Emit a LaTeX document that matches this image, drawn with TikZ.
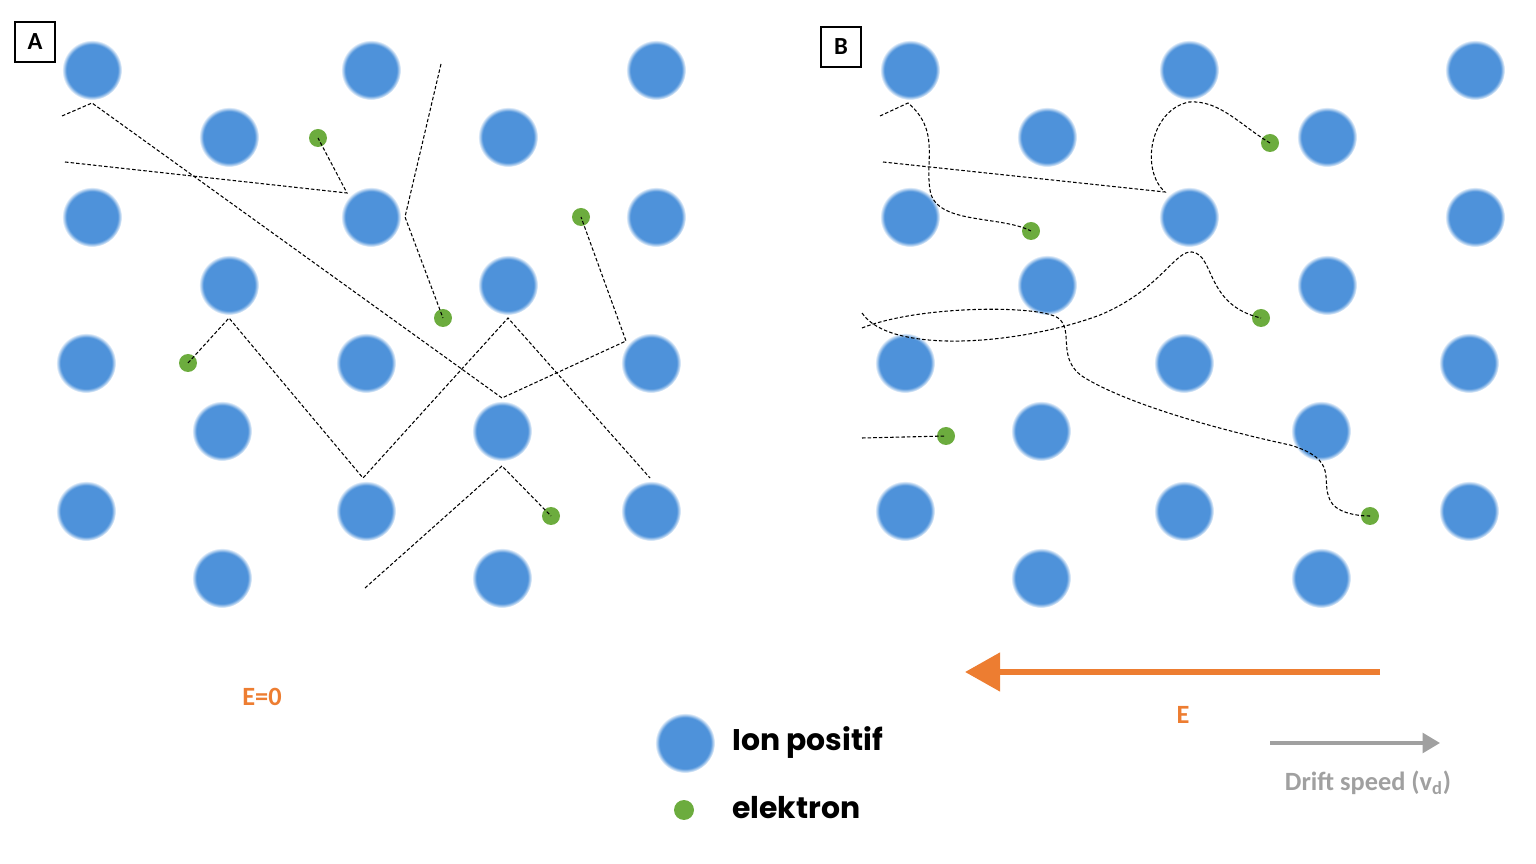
\documentclass[tikz,border=0pt]{standalone}
\usepackage{fontspec}
\setmainfont{Carlito}
\newfontfamily\legfont{Poppins}
\usetikzlibrary{fadings,arrows.meta}
\definecolor{ionblue}{RGB}{78,146,218}
\definecolor{elgreen}{RGB}{108,172,62}
\definecolor{eorange}{RGB}{237,125,49}
\definecolor{dgray}{RGB}{160,160,160}
\tikzset{
 ion/.style={circle,minimum size=1.2cm,inner sep=0,fill=ionblue,path fading=circle with fuzzy edge 15 percent},
 el/.style={circle,minimum size=0.36cm,inner sep=0,fill=elgreen},
 path/.style={densely dashed,line width=0.6pt,dash pattern=on 2pt off 1.2pt},
 box/.style={draw,line width=0.8pt,minimum size=0.8cm,inner sep=0,font=\bfseries\fontsize{14}{16}\selectfont},
}
\begin{document}
\begin{tikzpicture}[x=0.02cm,y=-0.02cm]
\useasboundingbox (0,0) rectangle (1536,864);
% left ions
\foreach \x/\y [count=\i] in {92/70,371/70,656/70,229/137,508/137,92/217,371/217,656/217,229/285,508/285,86/363,366/363,651/363,222/431,502/431,86/511,366/511,651/511,222/578,502/578}
 {\node[ion] (L\i) at (\x,\y) {};}
\foreach \x/\y [count=\i] in {910/70,1189/70,1475/70,1047/137,1327/137,910/217,1189/217,1475/217,1047/285,1327/285,905/363,1184/363,1469/363,1041/431,1321/431,905/511,1184/511,1469/511,1041/578,1321/578}
 {\node[ion] (R\i) at (\x,\y) {};}
% left electrons
\node[el] (le1) at (318,138) {};
\node[el] (le2) at (581,217) {};
\node[el] (le3) at (443,318) {};
\node[el] (le4) at (188,363) {};
\node[el] (le5) at (551,516) {};
\draw[path] (62,116)--(92,103)--(502,398)--(626,341)--(le2.center);
\draw[path] (65,162)--(347,193)--(le1.center);
\draw[path] (441,64)--(405,217)--(le3.center);
\draw[path] (le4.center)--(229,318)--(363,478)--(508,318)--(650,478);
\draw[path] (365,588)--(502,466)--(le5.center);
% right electrons
\node[el] (re1) at (1270,143) {};
\node[el] (re2) at (1031,231) {};
\node[el] (re3) at (1261,318) {};
\node[el] (re4) at (946,436) {};
\node[el] (re5) at (1370,516) {};
\draw[path] (880,116)--(908,103) .. controls (940,130) and (925,160) .. (930,190) .. controls (935,225) and (1000,215) .. (re2.center);
\draw[path] (883,162)--(1165,192) .. controls (1140,170) and (1150,110) .. (1189,102) .. controls (1220,100) and (1240,125) .. (re1.center);
\draw[path] (862,313) .. controls (890,355) and (1020,345) .. (1100,315) .. controls (1160,290) and (1175,250) .. (1192,252) .. controls (1215,255) and (1205,305) .. (re3.center);
\draw[path] (862,328) .. controls (920,305) and (1040,305) .. (1058,318) .. controls (1075,330) and (1055,360) .. (1085,378) .. controls (1130,405) and (1220,430) .. (1290,445) .. controls (1340,460) and (1320,480) .. (1330,500) .. controls (1335,512) and (1355,516) .. (re5.center);
\draw[path] (862,438)--(re4.center);
% labels
\node[box] (A) at (35,42) {A};
\node[box] (B) at (841,47) {B};
\node[text=eorange,font=\bfseries\fontsize{15}{18}\selectfont] (E0) at (262,697) {E=0};
\coordinate (es) at (1380,672);
\coordinate (ee) at (965,672);
\draw[eorange,line width=3.5pt,-{Triangle[length=0.7cm,width=0.75cm]}] (es)--(ee);
\node[text=eorange,font=\bfseries\fontsize{15}{18}\selectfont] (E) at (1183,715) {E};
\coordinate (ds) at (1270,743);
\coordinate (de) at (1440,743);
\draw[dgray,line width=1.8pt,-{Triangle[length=0.35cm,width=0.4cm]}] (ds)--(de);
\node[text=dgray,font=\bfseries\fontsize{15}{18}\selectfont] (ds) at (1368,783) {Drift speed (v\textsubscript{d})};
% legend
\node[ion] (li) at (685,743) {};
\node[anchor=west,font=\legfont\bfseries\fontsize{17}{20}\selectfont] (lit) at (726,743) {Ion positif};
\node[el,minimum size=0.4cm] (lel) at (684,810) {};
\node[anchor=west,font=\legfont\bfseries\fontsize{17}{20}\selectfont] (let) at (726,808) {elektron};
\end{tikzpicture}
\end{document}
